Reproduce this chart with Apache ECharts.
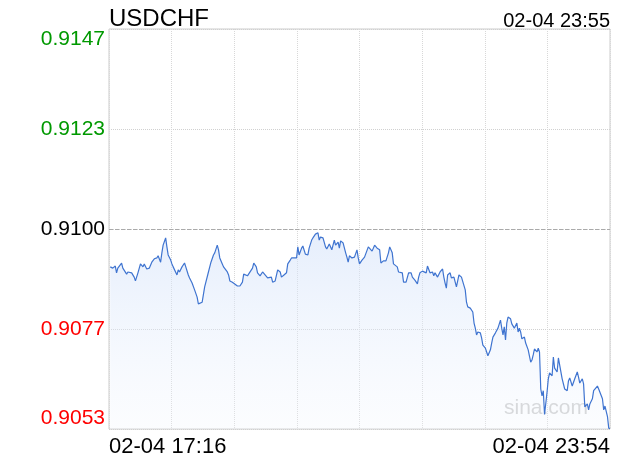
<!DOCTYPE html>
<html>
<head>
<meta charset="utf-8">
<script src="https://cdn.jsdelivr.net/npm/echarts@6/dist/echarts.min.js"></script>
<style>
  html, body { margin: 0; padding: 0; background: #fff; }
  #main { width: 620px; height: 460px; }
</style>
</head>
<body>
<div id="main"></div>
<script>
var symbol = 'USDCHF';
var lastTime = '02-04 23:55';
var prevClose = 0.9100;

// minutes since 17:16
var minutes = [
  1, 3, 5, 6, 7, 10, 11, 14, 15, 18, 20, 21, 23, 25, 27, 28, 30, 32, 34, 36,
  38, 39, 41, 42, 43, 45, 46, 47, 49, 50, 51, 52, 54, 55, 56, 58, 60, 61, 63, 64,
  66, 68, 70, 71, 72, 74, 75, 76, 79, 81, 83, 84, 86, 87, 88, 90, 91, 94, 95, 96,
  98, 99, 102, 103, 104, 106, 107, 110, 111, 114, 115, 117, 118, 120, 122, 123, 126, 127, 129, 130,
  132, 134, 136, 137, 139, 141, 142, 144, 145, 147, 149, 150, 151, 153, 154, 156, 158, 159, 161, 162,
  164, 166, 167, 168, 170, 172, 173, 175, 176, 177, 179, 180, 182, 183, 184, 186, 188, 189, 190, 191,
  193, 195, 197, 198, 199, 201, 203, 206, 207, 209, 211, 213, 215, 216, 218, 220, 222, 223, 225, 226,
  229, 230, 233, 234, 236, 238, 240, 241, 243, 245, 246, 247, 249, 250, 252, 253, 254, 255, 257, 258,
  259, 261, 262, 263, 265, 266, 267, 268, 269, 271, 272, 274, 276, 277, 278, 280, 281, 283, 284, 285,
  287, 288, 289, 290, 291, 292, 293, 295, 296, 297, 299, 300, 301, 303, 304, 305, 307, 308, 309, 311,
  312, 313, 314, 315, 316, 317, 319, 320, 321, 322, 324, 325, 326, 327, 328, 330, 331, 333, 335, 336,
  337, 338, 340, 341, 342, 343, 344, 345, 346, 348, 349, 350, 352, 353, 354, 356, 357, 358, 360, 361,
  362, 364, 365, 366, 368, 369, 370, 372, 373, 374, 376, 377, 378, 380, 381, 382, 384, 385, 386, 388,
  389, 390, 392, 393, 394, 396, 397, 398
];

var prices = [
  0.90911, 0.90908, 0.90913, 0.90897, 0.90908, 0.90920, 0.90908, 0.90894, 0.90899, 0.90897,
  0.90887, 0.90878, 0.90897, 0.90918, 0.90911, 0.90918, 0.90906, 0.90908, 0.90922, 0.90930,
  0.90932, 0.90937, 0.90922, 0.90944, 0.90962, 0.90979, 0.90958, 0.90939, 0.90927, 0.90918,
  0.90911, 0.90908, 0.90892, 0.90904, 0.90899, 0.90911, 0.90920, 0.90911, 0.90892, 0.90885,
  0.90873, 0.90857, 0.90840, 0.90824, 0.90821, 0.90828, 0.90824, 0.90864, 0.90899, 0.90922,
  0.90939, 0.90944, 0.90962, 0.90951, 0.90932, 0.90918, 0.90911, 0.90899, 0.90892, 0.90878,
  0.90875, 0.90875, 0.90866, 0.90868, 0.90866, 0.90875, 0.90894, 0.90890, 0.90894, 0.90908,
  0.90920, 0.90911, 0.90897, 0.90890, 0.90899, 0.90899, 0.90885, 0.90885, 0.90887, 0.90875,
  0.90878, 0.90904, 0.90899, 0.90887, 0.90892, 0.90897, 0.90918, 0.90927, 0.90932, 0.90932,
  0.90932, 0.90958, 0.90939, 0.90955, 0.90960, 0.90941, 0.90939, 0.90955, 0.90974, 0.90979,
  0.90988, 0.90991, 0.90974, 0.90981, 0.90979, 0.90958, 0.90953, 0.90965, 0.90969, 0.90951,
  0.90974, 0.90962, 0.90969, 0.90955, 0.90972, 0.90967, 0.90944, 0.90934, 0.90922, 0.90937,
  0.90932, 0.90934, 0.90951, 0.90932, 0.90918, 0.90927, 0.90934, 0.90958, 0.90955, 0.90948,
  0.90962, 0.90955, 0.90951, 0.90920, 0.90925, 0.90925, 0.90944, 0.90958, 0.90944, 0.90918,
  0.90911, 0.90899, 0.90897, 0.90875, 0.90875, 0.90897, 0.90897, 0.90887, 0.90880, 0.90871,
  0.90887, 0.90897, 0.90901, 0.90897, 0.90897, 0.90913, 0.90911, 0.90897, 0.90899, 0.90890,
  0.90897, 0.90887, 0.90890, 0.90899, 0.90906, 0.90887, 0.90873, 0.90861, 0.90892, 0.90897,
  0.90885, 0.90887, 0.90864, 0.90864, 0.90892, 0.90887, 0.90887, 0.90857, 0.90828, 0.90817,
  0.90814, 0.90814, 0.90805, 0.90779, 0.90767, 0.90751, 0.90758, 0.90756, 0.90744, 0.90727,
  0.90720, 0.90711, 0.90702, 0.90716, 0.90732, 0.90746, 0.90756, 0.90756, 0.90767, 0.90786,
  0.90767, 0.90751, 0.90770, 0.90739, 0.90779, 0.90793, 0.90789, 0.90777, 0.90781, 0.90767,
  0.90779, 0.90758, 0.90767, 0.90758, 0.90742, 0.90746, 0.90732, 0.90716, 0.90687, 0.90692,
  0.90704, 0.90718, 0.90711, 0.90720, 0.90711, 0.90624, 0.90608, 0.90620, 0.90564, 0.90617,
  0.90648, 0.90662, 0.90655, 0.90699, 0.90673, 0.90664, 0.90697, 0.90699, 0.90648, 0.90652,
  0.90624, 0.90620, 0.90643, 0.90650, 0.90631, 0.90629, 0.90648, 0.90664, 0.90652, 0.90638,
  0.90648, 0.90636, 0.90582, 0.90589, 0.90575, 0.90589, 0.90601, 0.90620, 0.90617, 0.90631,
  0.90624, 0.90620, 0.90601, 0.90575, 0.90584, 0.90559, 0.90532, 0.90531
];

var yLabels = ['0.9053', '0.9077', '0.9100', '0.9123', '0.9147'];
var xLabels = ['02-04 17:16', '02-04 23:54'];

var yMin = 0.9053, yMax = 0.9147, yStep = 0.00235;
var xMax = 398;

var seriesData = minutes.map(function (m, i) { return [m, prices[i]]; });

var chart = echarts.init(document.getElementById('main'));

var option = {
    animation: false,
    backgroundColor: '#fff',
    textStyle: { fontFamily: 'Liberation Sans, Arial, sans-serif' },
    grid: {
        left: 109, right: 10, top: 29, bottom: 31,
        show: true, borderColor: '#ccc', borderWidth: 1
    },
    title: [{
        text: symbol, left: 104, top: 2,
        textStyle: { fontSize: 24, fontWeight: 'normal', color: '#000', fontFamily: 'Liberation Sans' }
    }, {
        text: lastTime, right: 5, top: 6,
        textStyle: { fontSize: 20, fontWeight: 'normal', color: '#000', fontFamily: 'Liberation Sans' }
    }],
    graphic: [{
        type: 'text', left: 504, top: 398, z: 1,
        style: { text: 'sina.com', fontSize: 21, fill: '#cfcfcf', fontFamily: 'Liberation Sans' }
    }],
    xAxis: {
        type: 'value', min: 0, max: xMax, interval: xMax / 8,
        axisLine: { show: false }, axisTick: { show: false },
        splitLine: { show: true, lineStyle: { color: '#d8d8d8', type: 'dotted' } },
        axisLabel: {
            fontSize: 22, color: '#000', margin: 7,
            alignMinLabel: 'left', alignMaxLabel: 'right',
            formatter: function (v) {
                if (v === 0) return xLabels[0];
                if (Math.abs(v - xMax) < 1e-6) return xLabels[1];
                return '';
            }
        }
    },
    yAxis: {
        type: 'value', min: yMin, max: yMax, interval: yStep,
        axisLine: { show: false }, axisTick: { show: false },
        splitLine: { show: true, lineStyle: { color: '#d0d0d0', type: 'dotted' } },
        axisLabel: {
            fontSize: 21, margin: 4,
            verticalAlignMinLabel: 'bottom', verticalAlignMaxLabel: 'top',
            formatter: function (v) {
                var i = Math.round((v - yMin) / yStep);
                return yLabels[i] || '';
            },
            color: function (v) {
                if (v > prevClose + 1e-6) return '#009900';
                if (v < prevClose - 1e-6) return '#ff0000';
                return '#000';
            }
        }
    },
    series: [{
        type: 'line',
        data: seriesData,
        showSymbol: false,
        lineStyle: { color: '#3f74d0', width: 1.2 },
        areaStyle: {
            color: new echarts.graphic.LinearGradient(0, 0, 0, 1, [
                { offset: 0, color: 'rgba(210,225,250,0.8)' },
                { offset: 1, color: 'rgba(240,245,253,0.35)' }
            ])
        },
        markLine: {
            silent: true, symbol: 'none', label: { show: false },
            lineStyle: { color: '#aaa', type: 'dashed', width: 1 },
            data: [{ yAxis: prevClose }]
        },
        z: 3
    }]
};

chart.setOption(option);
</script>
</body>
</html>
